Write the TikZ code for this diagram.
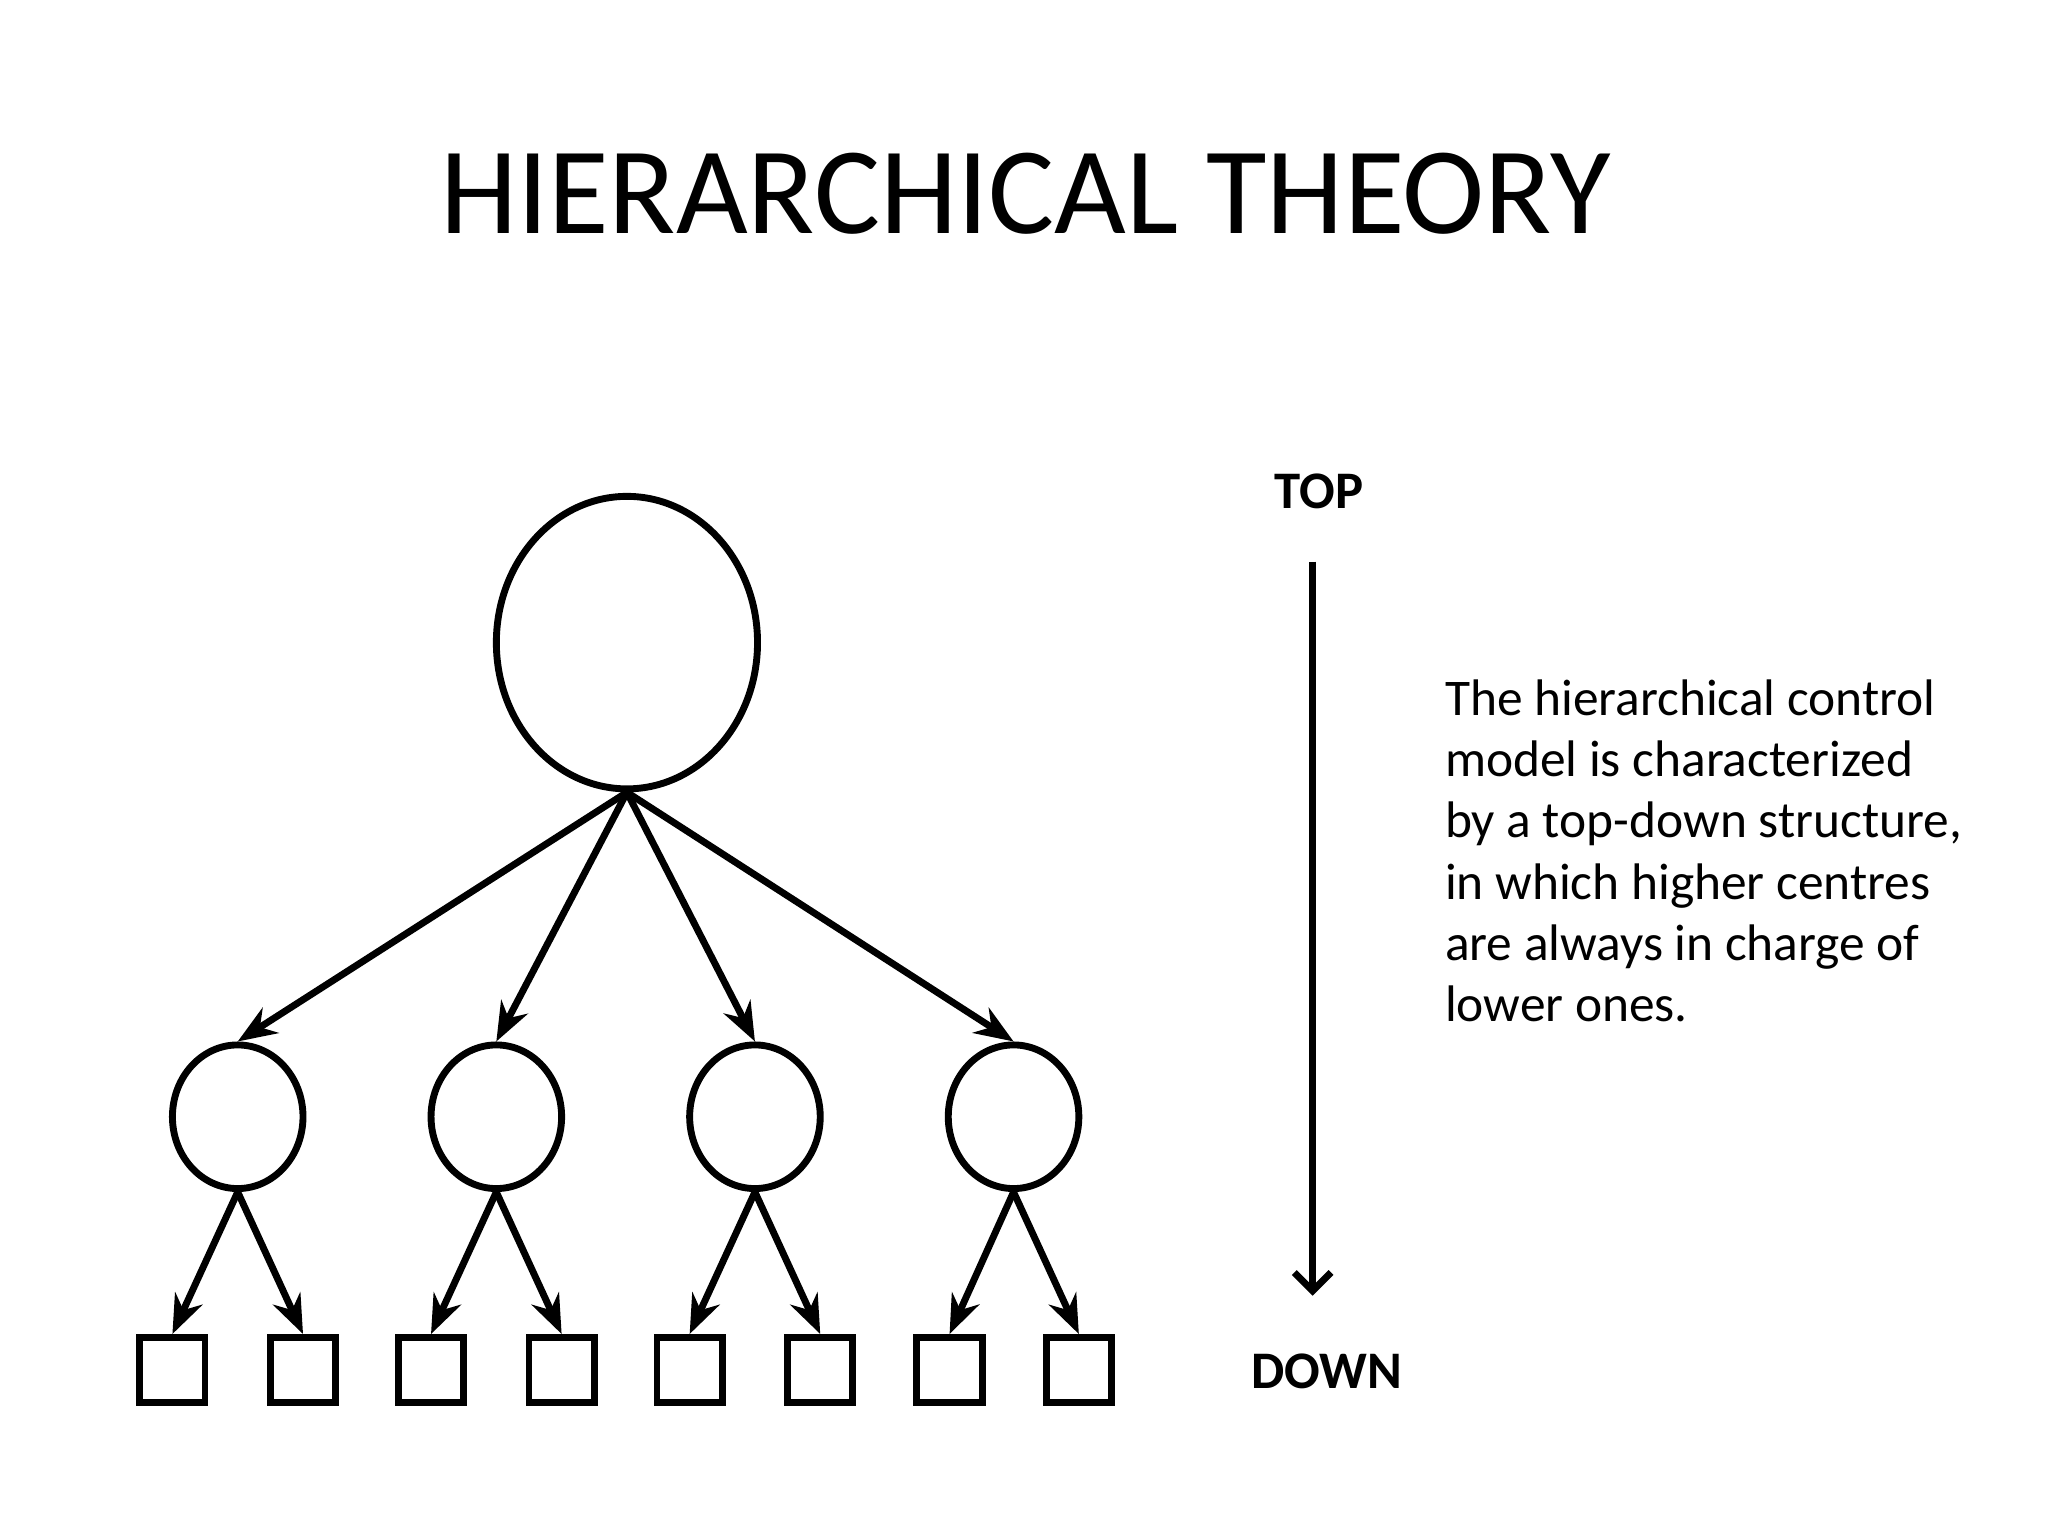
\documentclass[tikz,border=0pt]{standalone}
\usepackage{fontspec}
\setmainfont{Carlito}
\usetikzlibrary{shapes.geometric,arrows.meta}
\begin{document}
\begin{tikzpicture}[x=0.02cm,y=-0.02cm,
  ln/.style={line width=3pt},
  ar/.style={ln,-{Stealth[length=17pt,width=13pt]}},
  circ/.style={ellipse,draw,line width=3pt,inner sep=0pt},
  sq/.style={draw,line width=3pt,minimum size=1cm,inner sep=0pt}]
\useasboundingbox (0,0) rectangle (1568,1176);
\node (title) at (785,148) {\fontsize{54}{60}\selectfont HIERARCHICAL THEORY};
\node[circ,minimum width=4cm,minimum height=4.48cm] (top) at (480,492) {};
\foreach \i/\x in {1/182,2/380,3/578,4/776}{
  \node[circ,minimum width=2cm,minimum height=2.2cm] (c\i) at (\x,855) {};
  \draw[ar] (top.south) -- (c\i.north);
}
\foreach \i/\x/\p in {1/132/1,2/232/1,3/330/2,4/430/2,5/528/3,6/628/3,7/727/4,8/826/4}{
  \node[sq] (s\i) at (\x,1049) {};
  \draw[ar] (c\p.south) -- (s\i.north);
}
\node[font=\bfseries\fontsize{23}{28}\selectfont] (tp) at (1010,376) {TOP};
\node[font=\bfseries\fontsize{23}{28}\selectfont] (dn) at (1016,1050) {DOWN};
\coordinate (a1) at (1005,430);
\coordinate (a2) at (1005,992);
\draw[line width=3pt,-{Straight Barb[length=8pt,width=16pt]}] (a1) -- (a2);
\node[anchor=north west,align=left,font=\fontsize{22.4}{26.7}\selectfont,inner sep=0pt] (txt) at (1106,520)
{The hierarchical control\\model is characterized\\by a top-down structure,\\in which higher centres\\are always in charge of\\lower ones.};
\end{tikzpicture}
\end{document}
